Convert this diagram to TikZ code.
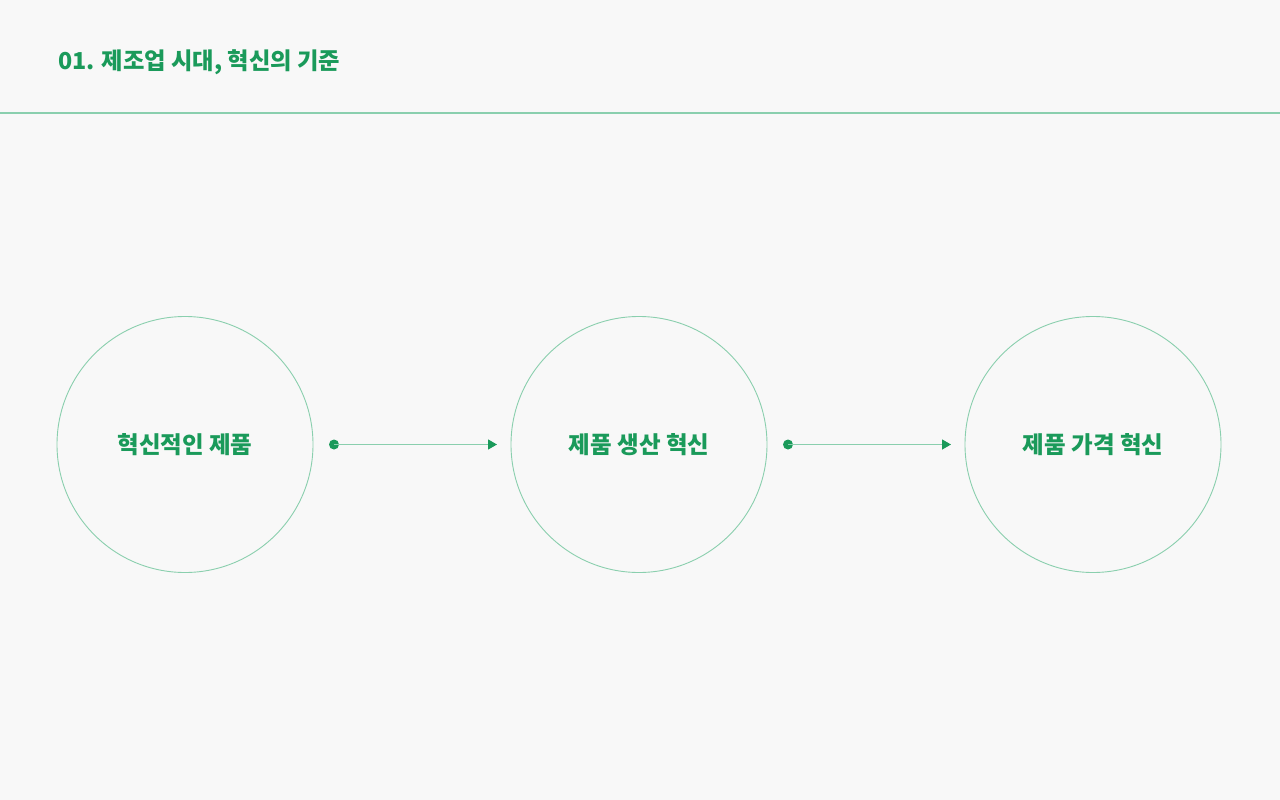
\documentclass[tikz,border=0pt]{standalone}
\usepackage{fontspec}
\setmainfont{Noto Sans CJK KR}[BoldFont={Noto Sans CJK KR Black}]
\usetikzlibrary{arrows.meta}
\definecolor{bg}{HTML}{F8F8F8}
\definecolor{txtgreen}{HTML}{1A9A5A}
\definecolor{linegreen}{HTML}{8ACFAE}
\tikzset{
  stage/.style={circle, draw=linegreen, line width=0.9pt, minimum size=256pt, inner sep=0pt,
    text=txtgreen, font=\fontsize{23.5}{27}\selectfont\bfseries},
  flow/.style={draw=linegreen, line width=1.3pt, -{Triangle[length=9pt,width=10pt,color=txtgreen]}},
  dotmark/.style={circle, fill=txtgreen, inner sep=0pt, minimum size=10pt},
  title/.style={text=txtgreen, font=\fontsize{23.3}{28}\selectfont\bfseries, anchor=base west, inner sep=0pt}
}
\begin{document}
\begin{tikzpicture}[x=1pt,y=-1pt]
\fill[bg] (0,0) rectangle (1280,800);
\useasboundingbox (0,0) rectangle (1280,800);
\node[title] (t) at (58,70) {01. 제조업 시대, 혁신의 기준};
\coordinate (l1) at (0,113);
\coordinate (l2) at (1280,113);
\draw[linegreen, line width=1.2pt] (l1) -- (l2);
\node[stage] (c1) at (185,444.5) {혁신적인 제품};
\node[stage] (c2) at (639,444.5) {제품 생산 혁신};
\node[stage] (c3) at (1093,444.5) {제품 가격 혁신};
\node[dotmark] (d1) at (334,444.5) {};
\coordinate (e1) at (497,444.5);
\node[dotmark] (d2) at (788,444.5) {};
\coordinate (e2) at (951,444.5);
\draw[flow] (d1.center) -- (e1);
\draw[flow] (d2.center) -- (e2);
\end{tikzpicture}
\end{document}
